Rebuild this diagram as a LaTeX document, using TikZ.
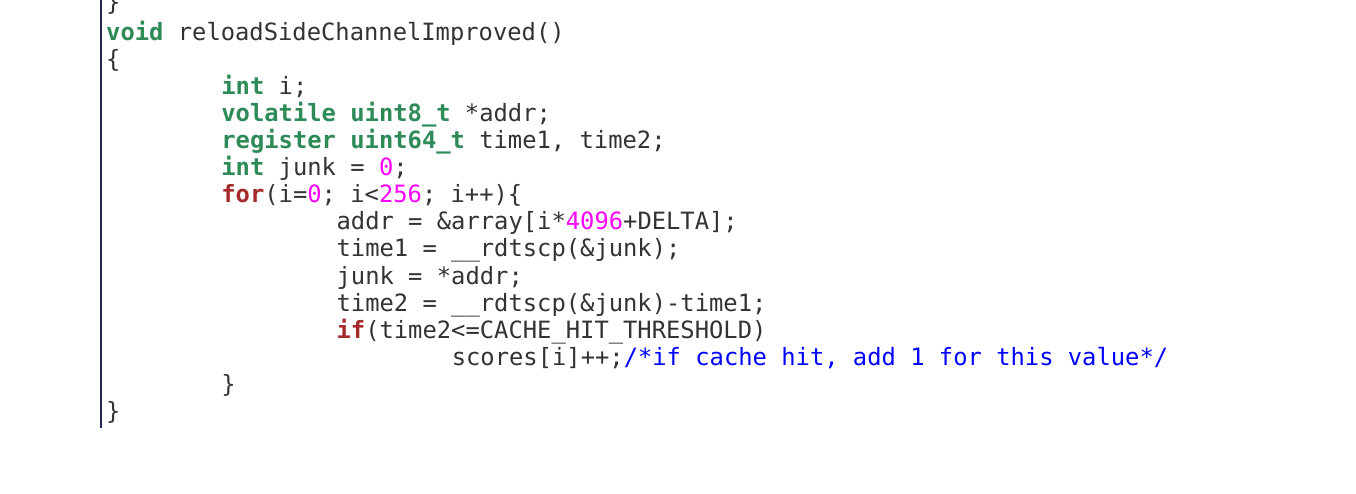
\documentclass[tikz,border=0pt]{standalone}
\usepackage{fontspec}
\setmonofont{DejaVu Sans Mono}
\definecolor{kw}{HTML}{2E8B57}
\definecolor{ctl}{HTML}{A52A2A}
\definecolor{num}{HTML}{FF00FF}
\definecolor{cmt}{HTML}{0000FF}
\definecolor{txt}{HTML}{333333}
\definecolor{bar}{HTML}{1F2A55}
\newcommand{\K}[1]{\textcolor{kw}{\textbf{#1}}}
\newcommand{\C}[1]{\textcolor{ctl}{\textbf{#1}}}
\newcommand{\N}[1]{\textcolor{num}{#1}}
\newcommand{\M}[1]{\textcolor{cmt}{#1}}
\begin{document}
\begin{tikzpicture}[x=1pt,y=-1pt,
  code/.style={anchor=base west,inner sep=0pt,font=\ttfamily\fontsize{23.8}{25}\selectfont,text=txt}]
\useasboundingbox (0,0) rectangle (1356,494);
\fill[white] (0,0) rectangle (1356,494);
\draw[bar,line width=2pt] (101,0) coordinate (bt) -- (101,428) coordinate (bb);
\def\cw{14.4}
\node[code] (l0) at (106,11) {\}};
\node[code] (l1) at (106,41) {\K{void} reloadSideChannelImproved()};
\node[code] (l2) at (106,68) {\{};
\node[code] (l3) at (106+8*\cw,95) {\K{int} i;};
\node[code] (l4) at (106+8*\cw,122) {\K{volatile} \K{uint8\_t} *addr;};
\node[code] (l5) at (106+8*\cw,149) {\K{register} \K{uint64\_t} time1, time2;};
\node[code] (l6) at (106+8*\cw,176) {\K{int} junk = \N{0};};
\node[code] (l7) at (106+8*\cw,203) {\C{for}(i=\N{0}; i<\N{256}; i++)\{};
\node[code] (l8) at (106+16*\cw,230) {addr = \&array[i*\N{4096}+DELTA];};
\node[code] (l9) at (106+16*\cw,257) {time1 = \_\_rdtscp(\&junk);};
\node[code] (l10) at (106+16*\cw,284) {junk = *addr;};
\node[code] (l11) at (106+16*\cw,311) {time2 = \_\_rdtscp(\&junk)-time1;};
\node[code] (l12) at (106+16*\cw,338) {\C{if}(time2<=CACHE\_HIT\_THRESHOLD)};
\node[code] (l13) at (106+24*\cw,365) {scores[i]++;\M{/*if cache hit, add 1 for this value*/}};
\node[code] (l14) at (106+8*\cw,392) {\}};
\node[code] (l15) at (106,419) {\}};
\end{tikzpicture}
\end{document}
